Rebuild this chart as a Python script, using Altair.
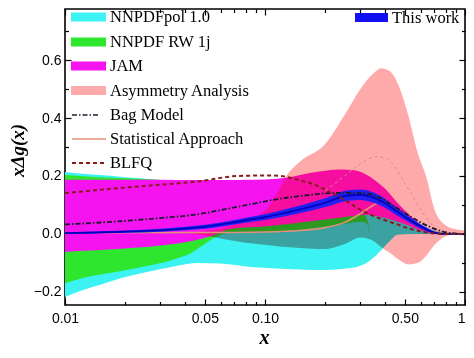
import altair as alt
import pandas as pd

# ---------------- data ----------------
# NNPDFpol 1.0 (cyan band)
nnpdf_x = [0.01, 0.0123, 0.015, 0.02, 0.026, 0.035, 0.046, 0.06, 0.088, 0.12, 0.16, 0.2, 0.25, 0.3, 0.33, 0.37, 0.42, 0.46, 0.55, 0.65, 0.75, 0.85, 1.0]
nnpdf_lo = [-0.217, -0.193, -0.175, -0.148, -0.13, -0.112, -0.1, -0.102, -0.115, -0.12, -0.123, -0.124, -0.12, -0.11, -0.095, -0.065, -0.025, -0.003, 0.0, 0.0, 0.0, 0.0, 0.0]
nnpdf_hi = [0.214, 0.208, 0.203, 0.196, 0.19, 0.182, 0.175, 0.165, 0.15, 0.14, 0.13, 0.12, 0.11, 0.1, 0.095, 0.088, 0.075, 0.065, 0.045, 0.02, 0.006, 0.002, 0.0]

# NNPDF RW 1j (green band)
rw_x = [0.01, 0.0123, 0.015, 0.02, 0.026, 0.035, 0.043, 0.05, 0.057, 0.065, 0.08, 0.1, 0.14, 0.2, 0.25, 0.3, 0.32, 0.34, 0.5, 1.0]
rw_lo = [-0.17, -0.152, -0.14, -0.125, -0.11, -0.088, -0.065, -0.035, -0.01, 0.003, 0.005, 0.008, 0.013, 0.025, 0.035, 0.042, 0.04, 0.0, 0.0, 0.0]
rw_hi = [0.203, 0.199, 0.196, 0.192, 0.189, 0.183, 0.18, 0.177, 0.174, 0.17, 0.16, 0.15, 0.13, 0.11, 0.09, 0.075, 0.06, 0.0, 0.0, 0.0]

# JAM (magenta band)
jam_x = [0.01, 0.0123, 0.015, 0.02, 0.03, 0.046, 0.055, 0.065, 0.08, 0.1, 0.13, 0.16, 0.2, 0.24, 0.28, 0.32, 0.36, 0.4, 0.46, 0.52, 0.58, 0.65, 0.72, 0.8, 1.0]
jam_lo = [-0.062, -0.058, -0.055, -0.05, -0.04, -0.02, -0.005, 0.015, 0.022, 0.026, 0.034, 0.042, 0.05, 0.057, 0.063, 0.066, 0.062, 0.055, 0.042, 0.03, 0.015, 0.004, 0.001, 0.0, 0.0]
jam_hi = [0.187, 0.187, 0.187, 0.187, 0.187, 0.186, 0.186, 0.186, 0.187, 0.188, 0.195, 0.208, 0.218, 0.222, 0.22, 0.205, 0.182, 0.155, 0.107, 0.07, 0.04, 0.012, 0.003, 0.0, 0.0]

# Asymmetry Analysis (pink band) and its central curve
asym_x = [0.01, 0.04, 0.05, 0.065, 0.08, 0.1, 0.115, 0.128, 0.15, 0.2, 0.25, 0.3, 0.35, 0.38, 0.42, 0.47, 0.52, 0.58, 0.64, 0.7, 0.8, 0.9, 1.0]
asym_lo = [0.0, 0.0, -0.005, -0.02, -0.03, -0.037, -0.042, -0.045, -0.048, -0.052, -0.035, -0.012, -0.025, -0.045, -0.065, -0.09, -0.105, -0.1, -0.075, -0.04, -0.008, 0.0, 0.0]
asym_hi = [0.0, 0.0, 0.01, 0.025, 0.045, 0.08, 0.14, 0.2, 0.25, 0.31, 0.41, 0.5, 0.555, 0.572, 0.562, 0.505, 0.41, 0.28, 0.197, 0.09, 0.03, 0.016, 0.012]
asymc_x = [0.2, 0.25, 0.284, 0.32, 0.357, 0.4, 0.43, 0.5, 0.59, 0.67, 0.76, 0.9, 1.0]
asymc_y = [0.15, 0.2, 0.23, 0.255, 0.266, 0.262, 0.245, 0.176, 0.093, 0.038, 0.01, 0.002, 0.0]

# This work (blue band + central curve)
tw_x = [0.01, 0.02, 0.03, 0.04, 0.05, 0.067, 0.088, 0.1, 0.125, 0.15, 0.2, 0.26, 0.3, 0.34, 0.39, 0.46, 0.56, 0.65, 0.72, 0.8, 1.0]
tw_mid = [0.003, 0.008, 0.013, 0.019, 0.025, 0.038, 0.052, 0.058, 0.072, 0.085, 0.108, 0.133, 0.135, 0.128, 0.11, 0.076, 0.038, 0.014, 0.003, 0.0, 0.0]
tw_lo = [0.0, 0.004, 0.008, 0.013, 0.018, 0.03, 0.043, 0.048, 0.06, 0.072, 0.093, 0.115, 0.117, 0.11, 0.094, 0.063, 0.029, 0.008, 0.0, -0.002, 0.0]
tw_hi = [0.006, 0.012, 0.018, 0.025, 0.032, 0.046, 0.061, 0.068, 0.084, 0.098, 0.123, 0.151, 0.153, 0.146, 0.126, 0.089, 0.047, 0.02, 0.006, 0.002, 0.0]

# Bag Model
bag_x = [0.01, 0.02, 0.03, 0.046, 0.065, 0.088, 0.12, 0.16, 0.2, 0.26, 0.32, 0.38, 0.45, 0.52, 0.6, 0.68, 0.76, 0.85, 1.0]
bag_y = [0.033, 0.045, 0.055, 0.068, 0.087, 0.105, 0.122, 0.133, 0.14, 0.142, 0.14, 0.123, 0.092, 0.065, 0.04, 0.022, 0.01, 0.003, 0.0]

# Statistical Approach
stat_x = [0.01, 0.05, 0.1, 0.15, 0.2, 0.25, 0.3, 0.35, 0.38, 0.42, 0.5, 0.6, 0.7, 0.85, 1.0]
stat_y = [0.004, 0.005, 0.007, 0.012, 0.022, 0.04, 0.07, 0.1, 0.11, 0.1, 0.06, 0.025, 0.007, 0.0, 0.0]

# BLFQ
blfq_x = [0.01, 0.02, 0.03, 0.046, 0.073, 0.106, 0.128, 0.15, 0.18, 0.21, 0.25, 0.3, 0.37, 0.45, 0.53, 0.62, 0.7, 0.85, 1.0]
blfq_y = [0.141, 0.16, 0.17, 0.181, 0.2, 0.202, 0.197, 0.185, 0.168, 0.145, 0.117, 0.083, 0.055, 0.035, 0.018, 0.007, 0.002, 0.0, 0.0]

# axis ticks / labels
x_major = [0.01, 0.05, 0.1, 0.5, 1.0]
x_minor = [0.02, 0.03, 0.04, 0.06, 0.07, 0.08, 0.09, 0.2, 0.3, 0.4, 0.6, 0.7, 0.8, 0.9]
y_major = [-0.2, 0.0, 0.2, 0.4, 0.6]
y_minor = [-0.1, 0.1, 0.3, 0.5, 0.7]

legend_left = ["NNPDFpol 1.0", "NNPDF RW 1j", "JAM", "Asymmetry Analysis", "Bag Model", "Statistical Approach", "BLFQ"]
legend_right = "This work"

# ---------------- styling ----------------
W, H = 400, 296
C_CYAN = "#3CF2F2"
C_GREEN = "#2EE62E"
C_MAG = "#F514F0"
C_PINK = "#FFAAAA"
C_BLUE = "#2020F2"
C_BLUE_LINE = "#0000B8"
C_BAG = "#1C1C30"
C_STAT = "#E39079"
C_BLFQ = "#8A1C1C"
C_ASYMC = "#D88A8A"
SERIF = "Liberation Serif"
SANS = "Liberation Sans"

xs = alt.Scale(type="log", domain=[0.01, 1], nice=False)
ys = alt.Scale(domain=[-0.245, 0.776], nice=False, zero=False)


def band(x, lo, hi):
    return pd.DataFrame({"x": x, "lo": lo, "hi": hi})


def curve(x, y):
    return pd.DataFrame({"x": x, "y": y})


def tick_axis(orient, offset, values, size):
    return alt.Axis(orient=orient, offset=offset, values=values, tickSize=size,
                    labels=False, domain=False, grid=False, title="",
                    ticks=True, tickColor="black", tickWidth=1.2)


x_label_axis = alt.Axis(values=x_major, labelExpr="datum.value < 1 ? format(datum.value, '.2f') : '1'",
                        labelAlign={"condition": {"test": "datum.value >= 1", "value": "right"}, "value": "center"},
                        ticks=False, domain=False, grid=False, labelFont=SANS, labelFontSize=14,
                        labelColor="black", labelPadding=6, labelOverlap=False, labelBound=False,
                        labelFlush=False, title="x", titleFont=SERIF, titleFontStyle="italic",
                        titleFontWeight="bold", titleFontSize=20, titleX=199, titleY=38,
                        titleBaseline="alphabetic", titleAlign="center", titleColor="black")
y_label_axis = alt.Axis(values=y_major, format=".1f", ticks=False, domain=False, grid=False,
                        labelFont=SANS, labelFontSize=14, labelColor="black", labelPadding=4,
                        labelOverlap=False, labelBound=False, labelFlush=False,
                        title="xΔg(x)", titleFont=SERIF, titleFontStyle="italic", titleFontWeight="bold",
                        titleFontSize=19, titleAngle=270, titleX=-48, titleY=141,
                        titleBaseline="middle", titleAlign="center", titleColor="black")


def area_layer(df, color, xaxis=None, yaxis=None, **kw):
    return alt.Chart(df).mark_area(color=color, interpolate="monotone", **kw).encode(
        x=alt.X("x:Q", scale=xs, axis=xaxis),
        y=alt.Y("lo:Q", scale=ys, axis=yaxis),
        y2="hi:Q",
    )


def line_layer(df, color, width, dash=None, xaxis=None, yaxis=None):
    kw = {}
    if dash is not None:
        kw["strokeDash"] = dash
    return alt.Chart(df).mark_line(color=color, strokeWidth=width, interpolate="monotone", **kw).encode(
        x=alt.X("x:Q", scale=xs, axis=xaxis),
        y=alt.Y("y:Q", scale=ys, axis=yaxis),
    )


layers = [
    area_layer(band(nnpdf_x, nnpdf_lo, nnpdf_hi), C_CYAN, x_label_axis, y_label_axis),
    area_layer(band(rw_x, rw_lo, rw_hi), C_GREEN, tick_axis("top", -H, x_major, 6), tick_axis("right", -W, y_major, 6)),
    area_layer(band(jam_x, jam_lo, jam_hi), C_MAG, tick_axis("top", -H, x_minor, 3.5), tick_axis("right", -W, y_minor, 3.5)),
    area_layer(band(asym_x, asym_lo, asym_hi), C_PINK, tick_axis("bottom", -H, x_major, 6), tick_axis("left", -W, y_major, 6), blend="multiply"),
    line_layer(curve(asymc_x, asymc_y), C_ASYMC, 1.0, [3, 3], tick_axis("bottom", -H, x_minor, 3.5), tick_axis("left", -W, y_minor, 3.5)),
    line_layer(curve(stat_x, stat_y), C_STAT, 1.6),
    area_layer(band(tw_x, tw_lo, tw_hi), C_BLUE),
    line_layer(curve(tw_x, tw_mid), C_BLUE_LINE, 1.6),
    line_layer(curve(bag_x, bag_y), C_BAG, 1.8, [5, 2, 1.5, 2]),
    line_layer(curve(blfq_x, blfq_y), C_BLFQ, 2.0, [4, 3]),
]

# ---------------- legends ----------------
one = pd.DataFrame({"k": [0]})
row_y = [8, 33, 57, 81.5, 106, 130, 154]
fill_colors = [C_CYAN, C_GREEN, C_MAG, C_PINK]
for i in range(4):
    layers.append(alt.Chart(one).mark_rect(color=fill_colors[i]).encode(
        x=alt.value(6), x2=alt.value(41), y=alt.value(row_y[i] - 4.5), y2=alt.value(row_y[i] + 4.5)))
line_styles = [(C_BAG, 1.6, [5, 2, 1.5, 2], 35), (C_STAT, 1.6, None, 41), (C_BLFQ, 1.8, [4, 3], 41)]
for j, (col, w, dash, x2) in enumerate(line_styles):
    kw = {"strokeDash": dash} if dash is not None else {}
    layers.append(alt.Chart(one).mark_rule(color=col, strokeWidth=w, **kw).encode(
        x=alt.value(7), x2=alt.value(x2), y=alt.value(row_y[4 + j])))
for i, lab in enumerate(legend_left):
    layers.append(alt.Chart(one).mark_text(align="left", baseline="middle", font=SERIF, fontSize=16.5,
                                           color="black", text=lab).encode(
        x=alt.value(45), y=alt.value(row_y[i])))
layers.append(alt.Chart(one).mark_rect(color="#1010F0").encode(
    x=alt.value(290), x2=alt.value(323), y=alt.value(4), y2=alt.value(13)))
layers.append(alt.Chart(one).mark_text(align="left", baseline="middle", font=SERIF, fontSize=16.5,
                                       color="black", text=legend_right).encode(
    x=alt.value(327), y=alt.value(8.5)))

chart = alt.layer(*layers).resolve_axis(x="independent", y="independent").properties(
    width=W, height=H,
    padding={"left": 57, "top": 1, "right": 1, "bottom": 45},
    autosize=alt.AutoSizeParams(type="none"),
).configure_view(stroke="black", strokeWidth=1.6)

chart.save("out.html", embed_options={"renderer": "svg", "actions": False})
